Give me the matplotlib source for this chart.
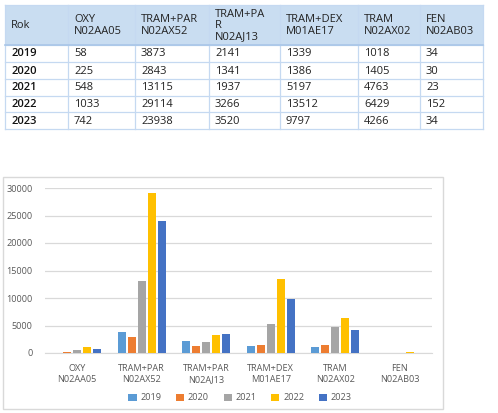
import matplotlib
matplotlib.use("Agg")
import matplotlib.pyplot as plt
import numpy as np
from matplotlib.patches import Rectangle

years = ["2019", "2020", "2021", "2022", "2023"]
categories = ["OXY\nN02AA05", "TRAM+PAR\nN02AX52", "TRAM+PAR\nN02AJ13",
              "TRAM+DEX\nM01AE17", "TRAM\nN02AX02", "FEN\nN02AB03"]
table_headers = ["Rok", "OXY\nN02AA05", "TRAM+PAR\nN02AX52", "TRAM+PA\nR\nN02AJ13",
                 "TRAM+DEX\nM01AE17", "TRAM\nN02AX02", "FEN\nN02AB03"]
oxy = [58, 225, 548, 1033, 742]
tram_par_ax52 = [3873, 2843, 13115, 29114, 23938]
tram_par_aj13 = [2141, 1341, 1937, 3266, 3520]
tram_dex = [1339, 1386, 5197, 13512, 9797]
tram = [1018, 1405, 4763, 6429, 4266]
fen = [34, 30, 23, 152, 34]
series_by_cat = [oxy, tram_par_ax52, tram_par_aj13, tram_dex, tram, fen]
colors = ["#5B9BD5", "#ED7D31", "#A5A5A5", "#FFC000", "#4472C4"]

plt.rcParams["font.family"] = ["Open Sans", "DejaVu Sans"]

fig = plt.figure(figsize=(4.98, 4.13), dpi=100)
ov = fig.add_axes([0, 0, 1, 1])
ov.set_xlim(0, 498)
ov.set_ylim(413, 0)
ov.axis("off")

# ---- table ----
col_edges = [5, 68, 135, 209, 280, 358, 420, 483]
row_edges = [5, 45, 62, 79, 96, 112, 129]
line_col = "#c5d9f1"
ov.add_patch(Rectangle((col_edges[0], row_edges[0]), col_edges[-1] - col_edges[0],
                       row_edges[1] - row_edges[0], facecolor="#c9ddf1", edgecolor="none"))
for xe in col_edges:
    ov.plot([xe, xe], [row_edges[0], row_edges[-1]], color=line_col, lw=0.9)
for ye in row_edges:
    ov.plot([col_edges[0], col_edges[-1]], [ye, ye], color=line_col, lw=0.9)
ov.plot([col_edges[0], col_edges[-1]], [row_edges[1], row_edges[1]], color="#a9c6e8", lw=1.2)

for j, h in enumerate(table_headers):
    ov.text(col_edges[j] + 6, (row_edges[0] + row_edges[1]) / 2 + 0.5, h,
            ha="left", va="center", fontsize=8, color="#222222", linespacing=1.05)

for i, yr in enumerate(years):
    yc = (row_edges[i + 1] + row_edges[i + 2]) / 2 + 0.5
    ov.text(col_edges[0] + 6, yc, yr, ha="left", va="center", fontsize=8,
            color="#111111", fontweight="semibold")
    for j, ser in enumerate(series_by_cat):
        ov.text(col_edges[j + 1] + 6, yc, str(ser[i]), ha="left", va="center",
                fontsize=8, color="#222222")

# ---- chart frame ----
ov.add_patch(Rectangle((3, 177), 440, 232, facecolor="white", edgecolor="#d9d9d9", lw=1.0))

W, H = 498, 413
left, right, top, bottom = 45, 432, 188, 353
ax = fig.add_axes([left / W, 1 - bottom / H, (right - left) / W, (bottom - top) / H])
x = np.arange(len(categories))
step = 0.155
bw = 0.13
for k, yr in enumerate(years):
    vals = [s[k] for s in series_by_cat]
    ax.bar(x + (k - 2) * step, vals, width=bw, color=colors[k], label=yr, zorder=3)

ax.set_xlim(-0.5, len(categories) - 0.5)
ax.set_ylim(0, 30000)
ax.set_yticks(np.arange(0, 30001, 5000))
ax.yaxis.grid(True, color="#d9d9d9", lw=0.9, zorder=0)
for s in ["top", "right", "left"]:
    ax.spines[s].set_visible(False)
ax.spines["bottom"].set_color("#d9d9d9")
ax.tick_params(axis="both", length=0, colors="#595959", labelsize=6.6)
ax.tick_params(axis="x", pad=8)
ax.tick_params(axis="y", pad=9)
ax.set_xticks(x)
ax.set_xticklabels(categories, linespacing=1.25)
ax.set_facecolor("none")

leg = fig.legend(loc="center", bbox_to_anchor=(240 / W, 1 - 398 / H), ncol=5,
                 frameon=False, fontsize=6.6, handlelength=0.9, handleheight=0.9,
                 columnspacing=1.6, handletextpad=0.4)
for t in leg.get_texts():
    t.set_color("#595959")

fig.savefig("out.png", dpi=100)
